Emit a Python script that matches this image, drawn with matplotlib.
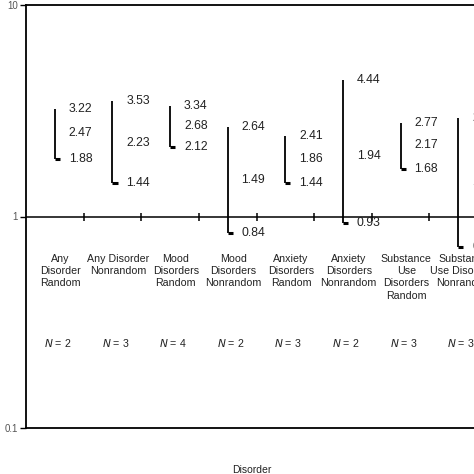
import matplotlib.pyplot as plt
from matplotlib.ticker import FixedLocator, NullLocator, FixedFormatter
from matplotlib.transforms import blended_transform_factory

plt.rcParams['font.family'] = ['Liberation Sans', 'DejaVu Sans']

categories = [
    'Any\nDisorder\nRandom',
    'Any Disorder\nNonrandom',
    'Mood\nDisorders\nRandom',
    'Mood\nDisorders\nNonrandom',
    'Anxiety\nDisorders\nRandom',
    'Anxiety\nDisorders\nNonrandom',
    'Substance\nUse\nDisorders\nRandom',
    'Substance\nUse Disorders\nNonrandom',
]
upper = [3.22, 3.53, 3.34, 2.64, 2.41, 4.44, 2.77, 2.93]
estimate = [2.47, 2.23, 2.68, 1.49, 1.86, 1.94, 2.17, 1.46]
lower = [1.88, 1.44, 2.12, 0.84, 1.44, 0.93, 1.68, 0.72]
n_studies = [2, 3, 4, 2, 3, 2, 3, 3]

fig = plt.figure(figsize=(4.74, 4.74), dpi=100)
# axes run past the right edge, the source image is cropped there
ax = fig.add_axes([26 / 474, 46 / 474, 461 / 474, 423 / 474])
ax.set_yscale('log')
ax.set_ylim(0.1, 10)
ax.set_xlim(-0.5, len(categories) - 0.5)

ax.axhline(1, color='black', lw=1.1, zorder=1)
bounds = [i + 0.5 for i in range(len(categories) - 1)]
ax.plot(bounds, [1] * len(bounds), ls='none', marker='|', ms=6, mew=1.1, color='black')

for i in range(len(categories)):
    ax.plot([i, i], [lower[i], upper[i]], color='black', lw=1.3, solid_capstyle='butt')
    ax.plot([i, i + 0.09], [lower[i], lower[i]], color='black', lw=2.2, solid_capstyle='butt')
    for v in (upper[i], estimate[i], lower[i]):
        ax.annotate(f'{v:.2f}', (i, v), xytext=(10, 0), textcoords='offset points',
                    va='center', ha='left', fontsize=8.8, color='#222222')

trans = blended_transform_factory(ax.transData, ax.transAxes)
for i, name in enumerate(categories):
    ax.text(i + 0.1, 0.411, name, transform=trans, ha='center', va='top',
            fontsize=7.7, linespacing=1.27, color='#222222')
    ax.text(i + 0.05, 0.2, f'$N$ = {n_studies[i]}', transform=trans, ha='center',
            va='center', fontsize=7.7, color='#222222')

ax.yaxis.set_major_locator(FixedLocator([0.1, 1, 10]))
ax.yaxis.set_major_formatter(FixedFormatter(['0.1', '1', '10']))
ax.yaxis.set_minor_locator(NullLocator())
ax.tick_params(axis='y', length=4, width=1, labelsize=7, labelcolor='#555555', pad=2)
ax.set_xticks([])

for side in ('left', 'bottom', 'top'):
    ax.spines[side].set_linewidth(1.3)
ax.spines['right'].set_visible(False)

ax.set_xlabel('Disorder', fontsize=7.5, color='#222222')
ax.xaxis.set_label_coords(226 / 461, -0.088)

fig.savefig('out.png', dpi=100)
